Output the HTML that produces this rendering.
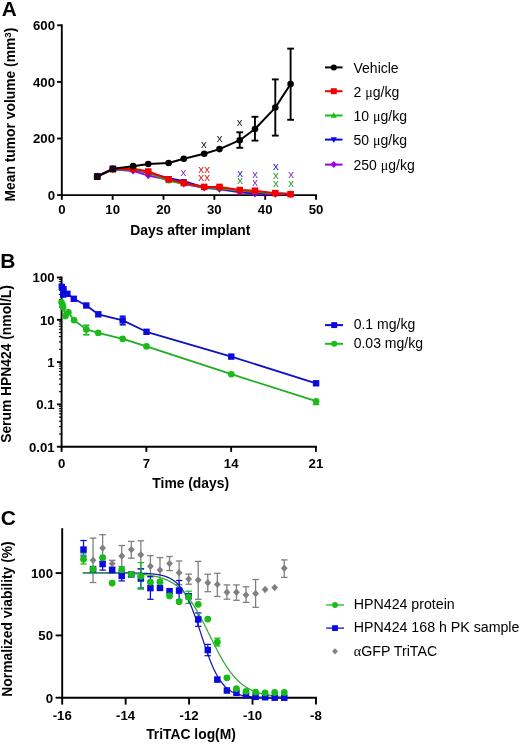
<!DOCTYPE html><html><head><meta charset="utf-8"><title>Figure</title><style>html,body{margin:0;padding:0;background:#fff}svg{display:block}</style></head><body>
<svg width="520" height="744" viewBox="0 0 520 744" font-family="Liberation Sans, sans-serif">
<rect width="520" height="744" fill="#fff"/>
<text x="1.70" y="16.00" font-size="20.8" font-weight="bold" text-anchor="start" fill="#000" >A</text>
<line x1="61.80" y1="24.35" x2="61.80" y2="196.05" stroke="#000" stroke-width="1.9" stroke-linecap="butt"/>
<line x1="60.85" y1="195.10" x2="317.00" y2="195.10" stroke="#000" stroke-width="1.9" stroke-linecap="butt"/>
<line x1="57.10" y1="195.10" x2="61.80" y2="195.10" stroke="#000" stroke-width="1.9" stroke-linecap="butt"/>
<text x="55.00" y="199.80" font-size="13.2" font-weight="bold" text-anchor="end" fill="#000" >0</text>
<line x1="57.10" y1="138.50" x2="61.80" y2="138.50" stroke="#000" stroke-width="1.9" stroke-linecap="butt"/>
<text x="55.00" y="143.20" font-size="13.2" font-weight="bold" text-anchor="end" fill="#000" >200</text>
<line x1="57.10" y1="81.90" x2="61.80" y2="81.90" stroke="#000" stroke-width="1.9" stroke-linecap="butt"/>
<text x="55.00" y="86.60" font-size="13.2" font-weight="bold" text-anchor="end" fill="#000" >400</text>
<line x1="57.10" y1="25.30" x2="61.80" y2="25.30" stroke="#000" stroke-width="1.9" stroke-linecap="butt"/>
<text x="55.00" y="30.00" font-size="13.2" font-weight="bold" text-anchor="end" fill="#000" >600</text>
<line x1="61.80" y1="195.10" x2="61.80" y2="199.80" stroke="#000" stroke-width="1.9" stroke-linecap="butt"/>
<text x="61.80" y="214.30" font-size="13.2" font-weight="bold" text-anchor="middle" fill="#000" >0</text>
<line x1="112.65" y1="195.10" x2="112.65" y2="199.80" stroke="#000" stroke-width="1.9" stroke-linecap="butt"/>
<text x="112.65" y="214.30" font-size="13.2" font-weight="bold" text-anchor="middle" fill="#000" >10</text>
<line x1="163.50" y1="195.10" x2="163.50" y2="199.80" stroke="#000" stroke-width="1.9" stroke-linecap="butt"/>
<text x="163.50" y="214.30" font-size="13.2" font-weight="bold" text-anchor="middle" fill="#000" >20</text>
<line x1="214.35" y1="195.10" x2="214.35" y2="199.80" stroke="#000" stroke-width="1.9" stroke-linecap="butt"/>
<text x="214.35" y="214.30" font-size="13.2" font-weight="bold" text-anchor="middle" fill="#000" >30</text>
<line x1="265.20" y1="195.10" x2="265.20" y2="199.80" stroke="#000" stroke-width="1.9" stroke-linecap="butt"/>
<text x="265.20" y="214.30" font-size="13.2" font-weight="bold" text-anchor="middle" fill="#000" >40</text>
<line x1="316.05" y1="195.10" x2="316.05" y2="199.80" stroke="#000" stroke-width="1.9" stroke-linecap="butt"/>
<text x="316.05" y="214.30" font-size="13.2" font-weight="bold" text-anchor="middle" fill="#000" >50</text>
<text x="190.30" y="235.00" font-size="13.85" font-weight="bold" text-anchor="middle" fill="#000" >Days after implant</text>
<text transform="translate(15,114.6) rotate(-90)" font-size="13.85" font-weight="bold" text-anchor="middle">Mean tumor volume (mm<tspan font-size="9.8" dy="-4.2">3</tspan><tspan dy="4.2">)</tspan></text>
<polyline points="97.20,176.00 112.90,169.30 133.10,170.90 148.25,175.60 168.60,179.80 183.80,184.00 204.25,187.80 219.50,189.20 239.75,192.20 254.95,194.00 275.30,194.20 290.60,194.40" fill="none" stroke="#a000e0" stroke-width="2.0" stroke-linejoin="round"/>
<polygon points="97.20,172.40 100.51,176.00 97.20,179.60 93.89,176.00" fill="#a000e0"/>
<polygon points="112.90,165.70 116.21,169.30 112.90,172.90 109.59,169.30" fill="#a000e0"/>
<polygon points="133.10,167.30 136.41,170.90 133.10,174.50 129.79,170.90" fill="#a000e0"/>
<polygon points="148.25,172.00 151.56,175.60 148.25,179.20 144.94,175.60" fill="#a000e0"/>
<polygon points="168.60,176.20 171.91,179.80 168.60,183.40 165.29,179.80" fill="#a000e0"/>
<polygon points="183.80,180.40 187.11,184.00 183.80,187.60 180.49,184.00" fill="#a000e0"/>
<polygon points="204.25,184.20 207.56,187.80 204.25,191.40 200.94,187.80" fill="#a000e0"/>
<polygon points="219.50,185.60 222.81,189.20 219.50,192.80 216.19,189.20" fill="#a000e0"/>
<polygon points="239.75,188.60 243.06,192.20 239.75,195.80 236.44,192.20" fill="#a000e0"/>
<polygon points="254.95,190.40 258.26,194.00 254.95,197.60 251.64,194.00" fill="#a000e0"/>
<polygon points="275.30,190.60 278.61,194.20 275.30,197.80 271.99,194.20" fill="#a000e0"/>
<polygon points="290.60,190.80 293.91,194.40 290.60,198.00 287.29,194.40" fill="#a000e0"/>
<polyline points="97.20,176.20 112.90,169.00 133.10,169.60 148.25,172.80 168.60,178.30 183.80,181.20 204.25,187.40 219.50,188.60 239.75,191.40 254.95,193.00 275.30,193.60 290.60,193.80" fill="none" stroke="#0a0ae0" stroke-width="2.0" stroke-linejoin="round"/>
<polygon points="97.20,179.56 94.12,173.96 100.28,173.96" fill="#0a0ae0"/>
<polygon points="112.90,172.36 109.82,166.76 115.98,166.76" fill="#0a0ae0"/>
<polygon points="133.10,172.96 130.02,167.36 136.18,167.36" fill="#0a0ae0"/>
<polygon points="148.25,176.16 145.17,170.56 151.33,170.56" fill="#0a0ae0"/>
<polygon points="168.60,181.66 165.52,176.06 171.68,176.06" fill="#0a0ae0"/>
<polygon points="183.80,184.56 180.72,178.96 186.88,178.96" fill="#0a0ae0"/>
<polygon points="204.25,190.76 201.17,185.16 207.33,185.16" fill="#0a0ae0"/>
<polygon points="219.50,191.96 216.42,186.36 222.58,186.36" fill="#0a0ae0"/>
<polygon points="239.75,194.76 236.67,189.16 242.83,189.16" fill="#0a0ae0"/>
<polygon points="254.95,196.36 251.87,190.76 258.03,190.76" fill="#0a0ae0"/>
<polygon points="275.30,196.96 272.22,191.36 278.38,191.36" fill="#0a0ae0"/>
<polygon points="290.60,197.16 287.52,191.56 293.68,191.56" fill="#0a0ae0"/>
<polyline points="97.20,176.40 112.90,169.40 133.10,169.20 148.25,172.30 168.60,181.00 183.80,183.60 204.25,187.20 219.50,188.20 239.75,190.80 254.95,191.80 275.30,193.40 290.60,194.00" fill="none" stroke="#18bb18" stroke-width="2.0" stroke-linejoin="round"/>
<polygon points="97.20,173.04 94.12,178.64 100.28,178.64" fill="#18bb18"/>
<polygon points="112.90,166.04 109.82,171.64 115.98,171.64" fill="#18bb18"/>
<polygon points="133.10,165.84 130.02,171.44 136.18,171.44" fill="#18bb18"/>
<polygon points="148.25,168.94 145.17,174.54 151.33,174.54" fill="#18bb18"/>
<polygon points="168.60,177.64 165.52,183.24 171.68,183.24" fill="#18bb18"/>
<polygon points="183.80,180.24 180.72,185.84 186.88,185.84" fill="#18bb18"/>
<polygon points="204.25,183.84 201.17,189.44 207.33,189.44" fill="#18bb18"/>
<polygon points="219.50,184.84 216.42,190.44 222.58,190.44" fill="#18bb18"/>
<polygon points="239.75,187.44 236.67,193.04 242.83,193.04" fill="#18bb18"/>
<polygon points="254.95,188.44 251.87,194.04 258.03,194.04" fill="#18bb18"/>
<polygon points="275.30,190.04 272.22,195.64 278.38,195.64" fill="#18bb18"/>
<polygon points="290.60,190.64 287.52,196.24 293.68,196.24" fill="#18bb18"/>
<polyline points="97.20,176.60 112.90,169.20 133.10,168.80 148.25,171.50 168.60,179.30 183.80,183.00 204.25,186.90 219.50,186.90 239.75,190.00 254.95,190.70 275.30,193.15 290.60,194.20" fill="none" stroke="#f40000" stroke-width="2.0" stroke-linejoin="round"/>
<rect x="93.95" y="173.35" width="6.5" height="6.5" fill="#f40000"/>
<rect x="109.65" y="165.95" width="6.5" height="6.5" fill="#f40000"/>
<rect x="129.85" y="165.55" width="6.5" height="6.5" fill="#f40000"/>
<rect x="145.00" y="168.25" width="6.5" height="6.5" fill="#f40000"/>
<rect x="165.35" y="176.05" width="6.5" height="6.5" fill="#f40000"/>
<rect x="180.55" y="179.75" width="6.5" height="6.5" fill="#f40000"/>
<rect x="201.00" y="183.65" width="6.5" height="6.5" fill="#f40000"/>
<rect x="216.25" y="183.65" width="6.5" height="6.5" fill="#f40000"/>
<rect x="236.50" y="186.75" width="6.5" height="6.5" fill="#f40000"/>
<rect x="251.70" y="187.45" width="6.5" height="6.5" fill="#f40000"/>
<rect x="272.05" y="189.90" width="6.5" height="6.5" fill="#f40000"/>
<rect x="287.35" y="190.95" width="6.5" height="6.5" fill="#f40000"/>
<line x1="239.75" y1="132.30" x2="239.75" y2="147.80" stroke="#000" stroke-width="1.9" stroke-linecap="butt"/>
<line x1="236.35" y1="132.30" x2="243.15" y2="132.30" stroke="#000" stroke-width="1.9" stroke-linecap="butt"/>
<line x1="236.35" y1="147.80" x2="243.15" y2="147.80" stroke="#000" stroke-width="1.9" stroke-linecap="butt"/>
<line x1="254.95" y1="116.80" x2="254.95" y2="140.60" stroke="#000" stroke-width="1.9" stroke-linecap="butt"/>
<line x1="251.55" y1="116.80" x2="258.35" y2="116.80" stroke="#000" stroke-width="1.9" stroke-linecap="butt"/>
<line x1="251.55" y1="140.60" x2="258.35" y2="140.60" stroke="#000" stroke-width="1.9" stroke-linecap="butt"/>
<line x1="275.30" y1="79.40" x2="275.30" y2="135.60" stroke="#000" stroke-width="1.9" stroke-linecap="butt"/>
<line x1="271.90" y1="79.40" x2="278.70" y2="79.40" stroke="#000" stroke-width="1.9" stroke-linecap="butt"/>
<line x1="271.90" y1="135.60" x2="278.70" y2="135.60" stroke="#000" stroke-width="1.9" stroke-linecap="butt"/>
<line x1="290.60" y1="48.60" x2="290.60" y2="119.80" stroke="#000" stroke-width="1.9" stroke-linecap="butt"/>
<line x1="287.20" y1="48.60" x2="294.00" y2="48.60" stroke="#000" stroke-width="1.9" stroke-linecap="butt"/>
<line x1="287.20" y1="119.80" x2="294.00" y2="119.80" stroke="#000" stroke-width="1.9" stroke-linecap="butt"/>
<polyline points="97.20,176.65 112.90,168.85 133.10,166.15 148.25,164.00 168.60,163.05 183.80,158.75 204.25,153.70 219.50,149.10 239.75,140.20 254.95,128.95 275.30,107.60 290.60,84.00" fill="none" stroke="#000" stroke-width="2.0" stroke-linejoin="round"/>
<circle cx="97.20" cy="176.65" r="3.3" fill="#000"/>
<circle cx="112.90" cy="168.85" r="3.3" fill="#000"/>
<circle cx="133.10" cy="166.15" r="3.3" fill="#000"/>
<circle cx="148.25" cy="164.00" r="3.3" fill="#000"/>
<circle cx="168.60" cy="163.05" r="3.3" fill="#000"/>
<circle cx="183.80" cy="158.75" r="3.3" fill="#000"/>
<circle cx="204.25" cy="153.70" r="3.3" fill="#000"/>
<circle cx="219.50" cy="149.10" r="3.3" fill="#000"/>
<circle cx="239.75" cy="140.20" r="3.3" fill="#000"/>
<circle cx="254.95" cy="128.95" r="3.3" fill="#000"/>
<circle cx="275.30" cy="107.60" r="3.3" fill="#000"/>
<circle cx="290.60" cy="84.00" r="3.3" fill="#000"/>
<rect x="93.90" y="173.35" width="6.6" height="6.6" fill="#17091c"/>
<rect x="109.60" y="165.55" width="6.6" height="6.6" fill="#17091c"/>
<text x="203.75" y="147.70" font-size="11.5"  text-anchor="middle" fill="#222" >x</text>
<text x="219.50" y="142.30" font-size="11.5"  text-anchor="middle" fill="#222" >x</text>
<text x="239.70" y="126.15" font-size="11.5"  text-anchor="middle" fill="#222" >x</text>
<text x="183.30" y="175.90" font-size="11.5"  text-anchor="middle" fill="#8a2fc0" >x</text>
<text x="201.10" y="173.40" font-size="11.5"  text-anchor="middle" fill="#d82020" >x</text>
<text x="207.10" y="173.40" font-size="11.5"  text-anchor="middle" fill="#d82020" >x</text>
<text x="201.10" y="181.20" font-size="11.5"  text-anchor="middle" fill="#d82020" >x</text>
<text x="207.10" y="181.20" font-size="11.5"  text-anchor="middle" fill="#d82020" >x</text>
<text x="240.10" y="176.50" font-size="11.5"  text-anchor="middle" fill="#2525c8" >x</text>
<text x="240.10" y="184.30" font-size="11.5"  text-anchor="middle" fill="#2a9a2a" >x</text>
<text x="255.20" y="177.80" font-size="11.5"  text-anchor="middle" fill="#8a2fc0" >x</text>
<text x="255.20" y="185.60" font-size="11.5"  text-anchor="middle" fill="#8a2fc0" >x</text>
<text x="275.90" y="169.50" font-size="11.5"  text-anchor="middle" fill="#2525c8" >x</text>
<text x="275.90" y="178.65" font-size="11.5"  text-anchor="middle" fill="#2a9a2a" >x</text>
<text x="275.90" y="187.10" font-size="11.5"  text-anchor="middle" fill="#2a9a2a" >x</text>
<text x="291.00" y="178.40" font-size="11.5"  text-anchor="middle" fill="#8a2fc0" >x</text>
<text x="291.00" y="187.10" font-size="11.5"  text-anchor="middle" fill="#2a9a2a" >x</text>
<line x1="325.00" y1="67.40" x2="342.50" y2="67.40" stroke="#000" stroke-width="2.0" stroke-linecap="butt"/>
<circle cx="333.80" cy="67.40" r="3.0" fill="#000"/>
<text x="353.50" y="72.70" font-size="14"  text-anchor="start" fill="#000" >Vehicle</text>
<line x1="325.00" y1="91.20" x2="342.50" y2="91.20" stroke="#f40000" stroke-width="2.0" stroke-linecap="butt"/>
<rect x="330.80" y="88.20" width="6.0" height="6.0" fill="#f40000"/>
<text x="353.50" y="96.90" font-size="14"  text-anchor="start" fill="#000" >2 <tspan font-family="Liberation Serif, serif">μ</tspan>g/kg</text>
<line x1="325.00" y1="115.50" x2="342.50" y2="115.50" stroke="#18bb18" stroke-width="2.0" stroke-linecap="butt"/>
<polygon points="333.80,112.14 330.72,117.74 336.88,117.74" fill="#18bb18"/>
<text x="353.50" y="121.10" font-size="14"  text-anchor="start" fill="#000" >10 <tspan font-family="Liberation Serif, serif">μ</tspan>g/kg</text>
<line x1="325.00" y1="139.60" x2="342.50" y2="139.60" stroke="#0a0ae0" stroke-width="2.0" stroke-linecap="butt"/>
<polygon points="333.80,142.96 330.72,137.36 336.88,137.36" fill="#0a0ae0"/>
<text x="353.50" y="145.30" font-size="14"  text-anchor="start" fill="#000" >50 <tspan font-family="Liberation Serif, serif">μ</tspan>g/kg</text>
<line x1="325.00" y1="164.60" x2="342.50" y2="164.60" stroke="#a000e0" stroke-width="2.0" stroke-linecap="butt"/>
<polygon points="333.80,161.10 337.02,164.60 333.80,168.10 330.58,164.60" fill="#a000e0"/>
<text x="353.50" y="169.60" font-size="14"  text-anchor="start" fill="#000" >250 <tspan font-family="Liberation Serif, serif">μ</tspan>g/kg</text>
<text x="0.20" y="267.70" font-size="21" font-weight="bold" text-anchor="start" fill="#000" >B</text>
<line x1="61.60" y1="276.55" x2="61.60" y2="447.69" stroke="#000" stroke-width="1.9" stroke-linecap="butt"/>
<line x1="60.65" y1="446.74" x2="316.86" y2="446.74" stroke="#000" stroke-width="1.9" stroke-linecap="butt"/>
<line x1="56.90" y1="277.50" x2="61.60" y2="277.50" stroke="#000" stroke-width="1.9" stroke-linecap="butt"/>
<text x="54.60" y="282.40" font-size="13.2" font-weight="bold" text-anchor="end" fill="#000" >100</text>
<line x1="56.90" y1="319.81" x2="61.60" y2="319.81" stroke="#000" stroke-width="1.9" stroke-linecap="butt"/>
<text x="54.60" y="324.71" font-size="13.2" font-weight="bold" text-anchor="end" fill="#000" >10</text>
<line x1="56.90" y1="362.12" x2="61.60" y2="362.12" stroke="#000" stroke-width="1.9" stroke-linecap="butt"/>
<text x="54.60" y="367.02" font-size="13.2" font-weight="bold" text-anchor="end" fill="#000" >1</text>
<line x1="56.90" y1="404.43" x2="61.60" y2="404.43" stroke="#000" stroke-width="1.9" stroke-linecap="butt"/>
<text x="54.60" y="409.33" font-size="13.2" font-weight="bold" text-anchor="end" fill="#000" >0.1</text>
<line x1="56.90" y1="446.74" x2="61.60" y2="446.74" stroke="#000" stroke-width="1.9" stroke-linecap="butt"/>
<text x="54.60" y="451.64" font-size="13.2" font-weight="bold" text-anchor="end" fill="#000" >0.01</text>
<line x1="58.90" y1="307.07" x2="61.60" y2="307.07" stroke="#000" stroke-width="1.1" stroke-linecap="butt"/>
<line x1="58.90" y1="299.62" x2="61.60" y2="299.62" stroke="#000" stroke-width="1.1" stroke-linecap="butt"/>
<line x1="58.90" y1="294.34" x2="61.60" y2="294.34" stroke="#000" stroke-width="1.1" stroke-linecap="butt"/>
<line x1="58.90" y1="290.24" x2="61.60" y2="290.24" stroke="#000" stroke-width="1.1" stroke-linecap="butt"/>
<line x1="58.90" y1="286.89" x2="61.60" y2="286.89" stroke="#000" stroke-width="1.1" stroke-linecap="butt"/>
<line x1="58.90" y1="284.05" x2="61.60" y2="284.05" stroke="#000" stroke-width="1.1" stroke-linecap="butt"/>
<line x1="58.90" y1="281.60" x2="61.60" y2="281.60" stroke="#000" stroke-width="1.1" stroke-linecap="butt"/>
<line x1="58.90" y1="279.44" x2="61.60" y2="279.44" stroke="#000" stroke-width="1.1" stroke-linecap="butt"/>
<line x1="58.90" y1="349.38" x2="61.60" y2="349.38" stroke="#000" stroke-width="1.1" stroke-linecap="butt"/>
<line x1="58.90" y1="341.93" x2="61.60" y2="341.93" stroke="#000" stroke-width="1.1" stroke-linecap="butt"/>
<line x1="58.90" y1="336.65" x2="61.60" y2="336.65" stroke="#000" stroke-width="1.1" stroke-linecap="butt"/>
<line x1="58.90" y1="332.55" x2="61.60" y2="332.55" stroke="#000" stroke-width="1.1" stroke-linecap="butt"/>
<line x1="58.90" y1="329.20" x2="61.60" y2="329.20" stroke="#000" stroke-width="1.1" stroke-linecap="butt"/>
<line x1="58.90" y1="326.36" x2="61.60" y2="326.36" stroke="#000" stroke-width="1.1" stroke-linecap="butt"/>
<line x1="58.90" y1="323.91" x2="61.60" y2="323.91" stroke="#000" stroke-width="1.1" stroke-linecap="butt"/>
<line x1="58.90" y1="321.75" x2="61.60" y2="321.75" stroke="#000" stroke-width="1.1" stroke-linecap="butt"/>
<line x1="58.90" y1="391.69" x2="61.60" y2="391.69" stroke="#000" stroke-width="1.1" stroke-linecap="butt"/>
<line x1="58.90" y1="384.24" x2="61.60" y2="384.24" stroke="#000" stroke-width="1.1" stroke-linecap="butt"/>
<line x1="58.90" y1="378.96" x2="61.60" y2="378.96" stroke="#000" stroke-width="1.1" stroke-linecap="butt"/>
<line x1="58.90" y1="374.86" x2="61.60" y2="374.86" stroke="#000" stroke-width="1.1" stroke-linecap="butt"/>
<line x1="58.90" y1="371.51" x2="61.60" y2="371.51" stroke="#000" stroke-width="1.1" stroke-linecap="butt"/>
<line x1="58.90" y1="368.67" x2="61.60" y2="368.67" stroke="#000" stroke-width="1.1" stroke-linecap="butt"/>
<line x1="58.90" y1="366.22" x2="61.60" y2="366.22" stroke="#000" stroke-width="1.1" stroke-linecap="butt"/>
<line x1="58.90" y1="364.06" x2="61.60" y2="364.06" stroke="#000" stroke-width="1.1" stroke-linecap="butt"/>
<line x1="58.90" y1="434.00" x2="61.60" y2="434.00" stroke="#000" stroke-width="1.1" stroke-linecap="butt"/>
<line x1="58.90" y1="426.55" x2="61.60" y2="426.55" stroke="#000" stroke-width="1.1" stroke-linecap="butt"/>
<line x1="58.90" y1="421.27" x2="61.60" y2="421.27" stroke="#000" stroke-width="1.1" stroke-linecap="butt"/>
<line x1="58.90" y1="417.17" x2="61.60" y2="417.17" stroke="#000" stroke-width="1.1" stroke-linecap="butt"/>
<line x1="58.90" y1="413.82" x2="61.60" y2="413.82" stroke="#000" stroke-width="1.1" stroke-linecap="butt"/>
<line x1="58.90" y1="410.98" x2="61.60" y2="410.98" stroke="#000" stroke-width="1.1" stroke-linecap="butt"/>
<line x1="58.90" y1="408.53" x2="61.60" y2="408.53" stroke="#000" stroke-width="1.1" stroke-linecap="butt"/>
<line x1="58.90" y1="406.37" x2="61.60" y2="406.37" stroke="#000" stroke-width="1.1" stroke-linecap="butt"/>
<line x1="61.60" y1="446.74" x2="61.60" y2="451.84" stroke="#000" stroke-width="1.9" stroke-linecap="butt"/>
<text x="61.60" y="467.60" font-size="13.2" font-weight="bold" text-anchor="middle" fill="#000" >0</text>
<line x1="146.37" y1="446.74" x2="146.37" y2="451.84" stroke="#000" stroke-width="1.9" stroke-linecap="butt"/>
<text x="146.37" y="467.60" font-size="13.2" font-weight="bold" text-anchor="middle" fill="#000" >7</text>
<line x1="231.14" y1="446.74" x2="231.14" y2="451.84" stroke="#000" stroke-width="1.9" stroke-linecap="butt"/>
<text x="231.14" y="467.60" font-size="13.2" font-weight="bold" text-anchor="middle" fill="#000" >14</text>
<line x1="315.91" y1="446.74" x2="315.91" y2="451.84" stroke="#000" stroke-width="1.9" stroke-linecap="butt"/>
<text x="315.91" y="467.60" font-size="13.2" font-weight="bold" text-anchor="middle" fill="#000" >21</text>
<text x="190.70" y="488.30" font-size="13.85" font-weight="bold" text-anchor="middle" fill="#000" >Time (days)</text>
<text transform="translate(11.2,364) rotate(-90)" font-size="13.85" font-weight="bold" text-anchor="middle">Serum HPN424 (nmol/L)</text>
<line x1="86.30" y1="325.30" x2="86.30" y2="334.80" stroke="#18bb18" stroke-width="1.6" stroke-linecap="butt"/>
<line x1="83.10" y1="325.30" x2="89.50" y2="325.30" stroke="#18bb18" stroke-width="1.6" stroke-linecap="butt"/>
<line x1="83.10" y1="334.80" x2="89.50" y2="334.80" stroke="#18bb18" stroke-width="1.6" stroke-linecap="butt"/>
<line x1="312.80" y1="404.50" x2="319.20" y2="404.50" stroke="#18bb18" stroke-width="1.5" stroke-linecap="butt"/>
<polyline points="61.50,302.30 62.60,305.00 63.10,307.60 65.50,316.10 68.40,312.30 74.10,320.30 86.30,329.40 98.20,332.90 122.70,338.90 146.50,346.40 231.30,374.20 316.10,401.20" fill="none" stroke="#1fae1f" stroke-width="1.75" stroke-linejoin="round"/>
<circle cx="61.50" cy="302.30" r="3.3" fill="#18bb18"/>
<circle cx="62.60" cy="305.00" r="3.3" fill="#18bb18"/>
<circle cx="63.10" cy="307.60" r="3.3" fill="#18bb18"/>
<circle cx="65.50" cy="316.10" r="3.3" fill="#18bb18"/>
<circle cx="68.40" cy="312.30" r="3.3" fill="#18bb18"/>
<circle cx="74.10" cy="320.30" r="3.3" fill="#18bb18"/>
<circle cx="86.30" cy="329.40" r="3.3" fill="#18bb18"/>
<circle cx="98.20" cy="332.90" r="3.3" fill="#18bb18"/>
<circle cx="122.70" cy="338.90" r="3.3" fill="#18bb18"/>
<circle cx="146.50" cy="346.40" r="3.3" fill="#18bb18"/>
<circle cx="231.30" cy="374.20" r="3.3" fill="#18bb18"/>
<circle cx="316.10" cy="401.20" r="3.3" fill="#18bb18"/>
<line x1="122.70" y1="316.20" x2="122.70" y2="324.80" stroke="#0a0ae0" stroke-width="1.5" stroke-linecap="butt"/>
<line x1="119.70" y1="316.20" x2="125.70" y2="316.20" stroke="#0a0ae0" stroke-width="1.5" stroke-linecap="butt"/>
<line x1="119.70" y1="324.80" x2="125.70" y2="324.80" stroke="#0a0ae0" stroke-width="1.5" stroke-linecap="butt"/>
<polyline points="61.80,286.90 63.50,289.20 63.20,294.60 67.40,293.80 73.80,298.80 86.30,305.50 98.30,314.30 122.70,320.40 146.50,331.80 231.30,356.60 316.10,383.30" fill="none" stroke="#1010c8" stroke-width="1.75" stroke-linejoin="round"/>
<rect x="58.60" y="283.70" width="6.4" height="6.4" fill="#0a0ae0"/>
<rect x="60.30" y="286.00" width="6.4" height="6.4" fill="#0a0ae0"/>
<rect x="60.00" y="291.40" width="6.4" height="6.4" fill="#0a0ae0"/>
<rect x="64.20" y="290.60" width="6.4" height="6.4" fill="#0a0ae0"/>
<rect x="70.60" y="295.60" width="6.4" height="6.4" fill="#0a0ae0"/>
<rect x="83.10" y="302.30" width="6.4" height="6.4" fill="#0a0ae0"/>
<rect x="95.10" y="311.10" width="6.4" height="6.4" fill="#0a0ae0"/>
<rect x="119.50" y="317.20" width="6.4" height="6.4" fill="#0a0ae0"/>
<rect x="143.30" y="328.60" width="6.4" height="6.4" fill="#0a0ae0"/>
<rect x="228.10" y="353.40" width="6.4" height="6.4" fill="#0a0ae0"/>
<rect x="312.90" y="380.10" width="6.4" height="6.4" fill="#0a0ae0"/>
<line x1="325.00" y1="325.10" x2="343.00" y2="325.10" stroke="#0a0ae0" stroke-width="2.0" stroke-linecap="butt"/>
<rect x="331.20" y="322.10" width="6.0" height="6.0" fill="#0a0ae0"/>
<text x="353.70" y="329.30" font-size="14"  text-anchor="start" fill="#000" >0.1 mg/kg</text>
<line x1="325.00" y1="343.80" x2="343.00" y2="343.80" stroke="#18bb18" stroke-width="2.0" stroke-linecap="butt"/>
<circle cx="334.20" cy="343.80" r="3.0" fill="#18bb18"/>
<text x="353.70" y="348.00" font-size="14"  text-anchor="start" fill="#000" >0.03 mg/kg</text>
<text x="0.70" y="524.60" font-size="21" font-weight="bold" text-anchor="start" fill="#000" >C</text>
<line x1="62.20" y1="528.20" x2="62.20" y2="698.65" stroke="#000" stroke-width="1.9" stroke-linecap="butt"/>
<line x1="61.25" y1="697.70" x2="316.91" y2="697.70" stroke="#000" stroke-width="1.9" stroke-linecap="butt"/>
<line x1="55.60" y1="697.70" x2="62.20" y2="697.70" stroke="#000" stroke-width="1.9" stroke-linecap="butt"/>
<text x="53.00" y="702.50" font-size="13.2" font-weight="bold" text-anchor="end" fill="#000" >0</text>
<line x1="55.60" y1="635.40" x2="62.20" y2="635.40" stroke="#000" stroke-width="1.9" stroke-linecap="butt"/>
<text x="53.00" y="640.20" font-size="13.2" font-weight="bold" text-anchor="end" fill="#000" >50</text>
<line x1="55.60" y1="573.10" x2="62.20" y2="573.10" stroke="#000" stroke-width="1.9" stroke-linecap="butt"/>
<text x="53.00" y="577.90" font-size="13.2" font-weight="bold" text-anchor="end" fill="#000" >100</text>
<line x1="62.20" y1="697.70" x2="62.20" y2="704.60" stroke="#000" stroke-width="1.9" stroke-linecap="butt"/>
<text x="62.20" y="719.50" font-size="13.2" font-weight="bold" text-anchor="middle" fill="#000" >-16</text>
<line x1="125.64" y1="697.70" x2="125.64" y2="704.60" stroke="#000" stroke-width="1.9" stroke-linecap="butt"/>
<text x="125.64" y="719.50" font-size="13.2" font-weight="bold" text-anchor="middle" fill="#000" >-14</text>
<line x1="189.08" y1="697.70" x2="189.08" y2="704.60" stroke="#000" stroke-width="1.9" stroke-linecap="butt"/>
<text x="189.08" y="719.50" font-size="13.2" font-weight="bold" text-anchor="middle" fill="#000" >-12</text>
<line x1="252.52" y1="697.70" x2="252.52" y2="704.60" stroke="#000" stroke-width="1.9" stroke-linecap="butt"/>
<text x="252.52" y="719.50" font-size="13.2" font-weight="bold" text-anchor="middle" fill="#000" >-10</text>
<line x1="315.96" y1="697.70" x2="315.96" y2="704.60" stroke="#000" stroke-width="1.9" stroke-linecap="butt"/>
<text x="315.96" y="719.50" font-size="13.2" font-weight="bold" text-anchor="middle" fill="#000" >-8</text>
<text x="191.00" y="738.80" font-size="13.85" font-weight="bold" text-anchor="middle" fill="#000" >TriTAC log(M)</text>
<text transform="translate(11.7,619) rotate(-90)" font-size="13.85" font-weight="bold" text-anchor="middle">Normalized viability (%)</text>
<line x1="93.06" y1="538.10" x2="93.06" y2="582.50" stroke="#808080" stroke-width="1.3" stroke-linecap="butt"/>
<line x1="89.76" y1="538.10" x2="96.36" y2="538.10" stroke="#808080" stroke-width="1.3" stroke-linecap="butt"/>
<line x1="89.76" y1="582.50" x2="96.36" y2="582.50" stroke="#808080" stroke-width="1.3" stroke-linecap="butt"/>
<line x1="102.62" y1="534.70" x2="102.62" y2="561.50" stroke="#808080" stroke-width="1.3" stroke-linecap="butt"/>
<line x1="99.32" y1="534.70" x2="105.92" y2="534.70" stroke="#808080" stroke-width="1.3" stroke-linecap="butt"/>
<line x1="99.32" y1="561.50" x2="105.92" y2="561.50" stroke="#808080" stroke-width="1.3" stroke-linecap="butt"/>
<line x1="112.18" y1="560.30" x2="112.18" y2="567.00" stroke="#808080" stroke-width="1.3" stroke-linecap="butt"/>
<line x1="108.88" y1="560.30" x2="115.48" y2="560.30" stroke="#808080" stroke-width="1.3" stroke-linecap="butt"/>
<line x1="108.88" y1="567.00" x2="115.48" y2="567.00" stroke="#808080" stroke-width="1.3" stroke-linecap="butt"/>
<line x1="121.74" y1="545.50" x2="121.74" y2="566.50" stroke="#808080" stroke-width="1.3" stroke-linecap="butt"/>
<line x1="118.44" y1="545.50" x2="125.04" y2="545.50" stroke="#808080" stroke-width="1.3" stroke-linecap="butt"/>
<line x1="118.44" y1="566.50" x2="125.04" y2="566.50" stroke="#808080" stroke-width="1.3" stroke-linecap="butt"/>
<line x1="131.30" y1="541.40" x2="131.30" y2="558.20" stroke="#808080" stroke-width="1.3" stroke-linecap="butt"/>
<line x1="128.00" y1="541.40" x2="134.60" y2="541.40" stroke="#808080" stroke-width="1.3" stroke-linecap="butt"/>
<line x1="128.00" y1="558.20" x2="134.60" y2="558.20" stroke="#808080" stroke-width="1.3" stroke-linecap="butt"/>
<line x1="140.86" y1="540.80" x2="140.86" y2="569.00" stroke="#808080" stroke-width="1.3" stroke-linecap="butt"/>
<line x1="137.56" y1="540.80" x2="144.16" y2="540.80" stroke="#808080" stroke-width="1.3" stroke-linecap="butt"/>
<line x1="137.56" y1="569.00" x2="144.16" y2="569.00" stroke="#808080" stroke-width="1.3" stroke-linecap="butt"/>
<line x1="150.42" y1="555.60" x2="150.42" y2="577.00" stroke="#808080" stroke-width="1.3" stroke-linecap="butt"/>
<line x1="147.12" y1="555.60" x2="153.72" y2="555.60" stroke="#808080" stroke-width="1.3" stroke-linecap="butt"/>
<line x1="147.12" y1="577.00" x2="153.72" y2="577.00" stroke="#808080" stroke-width="1.3" stroke-linecap="butt"/>
<line x1="159.98" y1="557.60" x2="159.98" y2="582.60" stroke="#808080" stroke-width="1.3" stroke-linecap="butt"/>
<line x1="156.68" y1="557.60" x2="163.28" y2="557.60" stroke="#808080" stroke-width="1.3" stroke-linecap="butt"/>
<line x1="156.68" y1="582.60" x2="163.28" y2="582.60" stroke="#808080" stroke-width="1.3" stroke-linecap="butt"/>
<line x1="169.54" y1="556.50" x2="169.54" y2="570.60" stroke="#808080" stroke-width="1.3" stroke-linecap="butt"/>
<line x1="166.24" y1="556.50" x2="172.84" y2="556.50" stroke="#808080" stroke-width="1.3" stroke-linecap="butt"/>
<line x1="166.24" y1="570.60" x2="172.84" y2="570.60" stroke="#808080" stroke-width="1.3" stroke-linecap="butt"/>
<line x1="179.10" y1="561.00" x2="179.10" y2="584.60" stroke="#808080" stroke-width="1.3" stroke-linecap="butt"/>
<line x1="175.80" y1="561.00" x2="182.40" y2="561.00" stroke="#808080" stroke-width="1.3" stroke-linecap="butt"/>
<line x1="175.80" y1="584.60" x2="182.40" y2="584.60" stroke="#808080" stroke-width="1.3" stroke-linecap="butt"/>
<line x1="188.66" y1="574.10" x2="188.66" y2="584.20" stroke="#808080" stroke-width="1.3" stroke-linecap="butt"/>
<line x1="185.36" y1="574.10" x2="191.96" y2="574.10" stroke="#808080" stroke-width="1.3" stroke-linecap="butt"/>
<line x1="185.36" y1="584.20" x2="191.96" y2="584.20" stroke="#808080" stroke-width="1.3" stroke-linecap="butt"/>
<line x1="198.22" y1="561.40" x2="198.22" y2="599.30" stroke="#808080" stroke-width="1.3" stroke-linecap="butt"/>
<line x1="194.92" y1="561.40" x2="201.52" y2="561.40" stroke="#808080" stroke-width="1.3" stroke-linecap="butt"/>
<line x1="194.92" y1="599.30" x2="201.52" y2="599.30" stroke="#808080" stroke-width="1.3" stroke-linecap="butt"/>
<line x1="207.78" y1="574.20" x2="207.78" y2="591.70" stroke="#808080" stroke-width="1.3" stroke-linecap="butt"/>
<line x1="204.48" y1="574.20" x2="211.08" y2="574.20" stroke="#808080" stroke-width="1.3" stroke-linecap="butt"/>
<line x1="204.48" y1="591.70" x2="211.08" y2="591.70" stroke="#808080" stroke-width="1.3" stroke-linecap="butt"/>
<line x1="217.34" y1="573.30" x2="217.34" y2="596.50" stroke="#808080" stroke-width="1.3" stroke-linecap="butt"/>
<line x1="214.04" y1="573.30" x2="220.64" y2="573.30" stroke="#808080" stroke-width="1.3" stroke-linecap="butt"/>
<line x1="214.04" y1="596.50" x2="220.64" y2="596.50" stroke="#808080" stroke-width="1.3" stroke-linecap="butt"/>
<line x1="226.90" y1="584.90" x2="226.90" y2="599.20" stroke="#808080" stroke-width="1.3" stroke-linecap="butt"/>
<line x1="223.60" y1="584.90" x2="230.20" y2="584.90" stroke="#808080" stroke-width="1.3" stroke-linecap="butt"/>
<line x1="223.60" y1="599.20" x2="230.20" y2="599.20" stroke="#808080" stroke-width="1.3" stroke-linecap="butt"/>
<line x1="236.46" y1="584.90" x2="236.46" y2="600.30" stroke="#808080" stroke-width="1.3" stroke-linecap="butt"/>
<line x1="233.16" y1="584.90" x2="239.76" y2="584.90" stroke="#808080" stroke-width="1.3" stroke-linecap="butt"/>
<line x1="233.16" y1="600.30" x2="239.76" y2="600.30" stroke="#808080" stroke-width="1.3" stroke-linecap="butt"/>
<line x1="246.02" y1="586.80" x2="246.02" y2="602.40" stroke="#808080" stroke-width="1.3" stroke-linecap="butt"/>
<line x1="242.72" y1="586.80" x2="249.32" y2="586.80" stroke="#808080" stroke-width="1.3" stroke-linecap="butt"/>
<line x1="242.72" y1="602.40" x2="249.32" y2="602.40" stroke="#808080" stroke-width="1.3" stroke-linecap="butt"/>
<line x1="255.58" y1="579.50" x2="255.58" y2="607.30" stroke="#808080" stroke-width="1.3" stroke-linecap="butt"/>
<line x1="252.28" y1="579.50" x2="258.88" y2="579.50" stroke="#808080" stroke-width="1.3" stroke-linecap="butt"/>
<line x1="252.28" y1="607.30" x2="258.88" y2="607.30" stroke="#808080" stroke-width="1.3" stroke-linecap="butt"/>
<line x1="284.26" y1="559.90" x2="284.26" y2="577.40" stroke="#808080" stroke-width="1.3" stroke-linecap="butt"/>
<line x1="280.96" y1="559.90" x2="287.56" y2="559.90" stroke="#808080" stroke-width="1.3" stroke-linecap="butt"/>
<line x1="280.96" y1="577.40" x2="287.56" y2="577.40" stroke="#808080" stroke-width="1.3" stroke-linecap="butt"/>
<polygon points="93.06,556.60 96.46,560.30 93.06,564.00 89.66,560.30" fill="#808080"/>
<polygon points="102.62,544.40 106.02,548.10 102.62,551.80 99.22,548.10" fill="#808080"/>
<polygon points="112.18,559.90 115.58,563.60 112.18,567.30 108.78,563.60" fill="#808080"/>
<polygon points="121.74,552.30 125.14,556.00 121.74,559.70 118.34,556.00" fill="#808080"/>
<polygon points="131.30,545.90 134.70,549.60 131.30,553.30 127.90,549.60" fill="#808080"/>
<polygon points="140.86,551.10 144.26,554.80 140.86,558.50 137.46,554.80" fill="#808080"/>
<polygon points="150.42,562.60 153.82,566.30 150.42,570.00 147.02,566.30" fill="#808080"/>
<polygon points="159.98,566.40 163.38,570.10 159.98,573.80 156.58,570.10" fill="#808080"/>
<polygon points="169.54,559.90 172.94,563.60 169.54,567.30 166.14,563.60" fill="#808080"/>
<polygon points="179.10,569.10 182.50,572.80 179.10,576.50 175.70,572.80" fill="#808080"/>
<polygon points="188.66,575.40 192.06,579.10 188.66,582.80 185.26,579.10" fill="#808080"/>
<polygon points="198.22,576.40 201.62,580.10 198.22,583.80 194.82,580.10" fill="#808080"/>
<polygon points="207.78,579.10 211.18,582.80 207.78,586.50 204.38,582.80" fill="#808080"/>
<polygon points="217.34,580.70 220.74,584.40 217.34,588.10 213.94,584.40" fill="#808080"/>
<polygon points="226.90,588.50 230.30,592.20 226.90,595.90 223.50,592.20" fill="#808080"/>
<polygon points="236.46,588.50 239.86,592.20 236.46,595.90 233.06,592.20" fill="#808080"/>
<polygon points="246.02,591.20 249.42,594.90 246.02,598.60 242.62,594.90" fill="#808080"/>
<polygon points="255.58,589.80 258.98,593.50 255.58,597.20 252.18,593.50" fill="#808080"/>
<polygon points="265.14,585.80 268.54,589.50 265.14,593.20 261.74,589.50" fill="#808080"/>
<polygon points="274.70,583.90 278.10,587.60 274.70,591.30 271.30,587.60" fill="#808080"/>
<polygon points="284.26,564.50 287.66,568.20 284.26,571.90 280.86,568.20" fill="#808080"/>
<line x1="83.50" y1="540.50" x2="83.50" y2="556.00" stroke="#0a0ae0" stroke-width="1.25" stroke-linecap="butt"/>
<line x1="80.30" y1="540.50" x2="86.70" y2="540.50" stroke="#0a0ae0" stroke-width="1.25" stroke-linecap="butt"/>
<line x1="80.30" y1="556.00" x2="86.70" y2="556.00" stroke="#0a0ae0" stroke-width="1.25" stroke-linecap="butt"/>
<line x1="102.62" y1="558.00" x2="102.62" y2="570.10" stroke="#0a0ae0" stroke-width="1.25" stroke-linecap="butt"/>
<line x1="99.42" y1="558.00" x2="105.82" y2="558.00" stroke="#0a0ae0" stroke-width="1.25" stroke-linecap="butt"/>
<line x1="99.42" y1="570.10" x2="105.82" y2="570.10" stroke="#0a0ae0" stroke-width="1.25" stroke-linecap="butt"/>
<line x1="121.74" y1="571.00" x2="121.74" y2="580.90" stroke="#0a0ae0" stroke-width="1.25" stroke-linecap="butt"/>
<line x1="118.54" y1="571.00" x2="124.94" y2="571.00" stroke="#0a0ae0" stroke-width="1.25" stroke-linecap="butt"/>
<line x1="118.54" y1="580.90" x2="124.94" y2="580.90" stroke="#0a0ae0" stroke-width="1.25" stroke-linecap="butt"/>
<line x1="140.86" y1="568.80" x2="140.86" y2="588.00" stroke="#0a0ae0" stroke-width="1.25" stroke-linecap="butt"/>
<line x1="137.66" y1="568.80" x2="144.06" y2="568.80" stroke="#0a0ae0" stroke-width="1.25" stroke-linecap="butt"/>
<line x1="137.66" y1="588.00" x2="144.06" y2="588.00" stroke="#0a0ae0" stroke-width="1.25" stroke-linecap="butt"/>
<line x1="150.42" y1="576.40" x2="150.42" y2="599.30" stroke="#0a0ae0" stroke-width="1.25" stroke-linecap="butt"/>
<line x1="147.22" y1="576.40" x2="153.62" y2="576.40" stroke="#0a0ae0" stroke-width="1.25" stroke-linecap="butt"/>
<line x1="147.22" y1="599.30" x2="153.62" y2="599.30" stroke="#0a0ae0" stroke-width="1.25" stroke-linecap="butt"/>
<line x1="179.10" y1="580.50" x2="179.10" y2="600.00" stroke="#0a0ae0" stroke-width="1.25" stroke-linecap="butt"/>
<line x1="175.90" y1="580.50" x2="182.30" y2="580.50" stroke="#0a0ae0" stroke-width="1.25" stroke-linecap="butt"/>
<line x1="175.90" y1="600.00" x2="182.30" y2="600.00" stroke="#0a0ae0" stroke-width="1.25" stroke-linecap="butt"/>
<line x1="198.22" y1="612.90" x2="198.22" y2="626.30" stroke="#0a0ae0" stroke-width="1.25" stroke-linecap="butt"/>
<line x1="195.02" y1="612.90" x2="201.42" y2="612.90" stroke="#0a0ae0" stroke-width="1.25" stroke-linecap="butt"/>
<line x1="195.02" y1="626.30" x2="201.42" y2="626.30" stroke="#0a0ae0" stroke-width="1.25" stroke-linecap="butt"/>
<line x1="207.78" y1="644.40" x2="207.78" y2="655.70" stroke="#0a0ae0" stroke-width="1.25" stroke-linecap="butt"/>
<line x1="204.58" y1="644.40" x2="210.98" y2="644.40" stroke="#0a0ae0" stroke-width="1.25" stroke-linecap="butt"/>
<line x1="204.58" y1="655.70" x2="210.98" y2="655.70" stroke="#0a0ae0" stroke-width="1.25" stroke-linecap="butt"/>
<line x1="83.50" y1="553.90" x2="83.50" y2="564.00" stroke="#18bb18" stroke-width="1.25" stroke-linecap="butt"/>
<line x1="80.30" y1="553.90" x2="86.70" y2="553.90" stroke="#18bb18" stroke-width="1.25" stroke-linecap="butt"/>
<line x1="80.30" y1="564.00" x2="86.70" y2="564.00" stroke="#18bb18" stroke-width="1.25" stroke-linecap="butt"/>
<line x1="140.86" y1="562.60" x2="140.86" y2="589.20" stroke="#18bb18" stroke-width="1.25" stroke-linecap="butt"/>
<line x1="137.66" y1="562.60" x2="144.06" y2="562.60" stroke="#18bb18" stroke-width="1.25" stroke-linecap="butt"/>
<line x1="137.66" y1="589.20" x2="144.06" y2="589.20" stroke="#18bb18" stroke-width="1.25" stroke-linecap="butt"/>
<line x1="188.66" y1="591.20" x2="188.66" y2="603.40" stroke="#18bb18" stroke-width="1.25" stroke-linecap="butt"/>
<line x1="185.46" y1="591.20" x2="191.86" y2="591.20" stroke="#18bb18" stroke-width="1.25" stroke-linecap="butt"/>
<line x1="185.46" y1="603.40" x2="191.86" y2="603.40" stroke="#18bb18" stroke-width="1.25" stroke-linecap="butt"/>
<line x1="217.34" y1="638.20" x2="217.34" y2="646.00" stroke="#18bb18" stroke-width="1.25" stroke-linecap="butt"/>
<line x1="214.14" y1="638.20" x2="220.54" y2="638.20" stroke="#18bb18" stroke-width="1.25" stroke-linecap="butt"/>
<line x1="214.14" y1="646.00" x2="220.54" y2="646.00" stroke="#18bb18" stroke-width="1.25" stroke-linecap="butt"/>
<polyline points="82.82,572.85 83.45,572.85 84.09,572.85 84.72,572.85 85.36,572.85 85.99,572.85 86.62,572.85 87.26,572.85 87.89,572.85 88.53,572.85 89.16,572.85 89.80,572.85 90.43,572.85 91.07,572.85 91.70,572.85 92.33,572.85 92.97,572.85 93.60,572.85 94.24,572.85 94.87,572.85 95.51,572.85 96.14,572.85 96.77,572.86 97.41,572.86 98.04,572.86 98.68,572.86 99.31,572.86 99.95,572.86 100.58,572.86 101.22,572.86 101.85,572.86 102.48,572.86 103.12,572.86 103.75,572.86 104.39,572.86 105.02,572.86 105.66,572.86 106.29,572.86 106.93,572.86 107.56,572.86 108.19,572.86 108.83,572.87 109.46,572.87 110.10,572.87 110.73,572.87 111.37,572.87 112.00,572.87 112.63,572.87 113.27,572.87 113.90,572.87 114.54,572.88 115.17,572.88 115.81,572.88 116.44,572.88 117.08,572.88 117.71,572.88 118.34,572.89 118.98,572.89 119.61,572.89 120.25,572.89 120.88,572.90 121.52,572.90 122.15,572.90 122.79,572.91 123.42,572.91 124.05,572.91 124.69,572.92 125.32,572.92 125.96,572.93 126.59,572.93 127.23,572.94 127.86,572.94 128.49,572.95 129.13,572.96 129.76,572.96 130.40,572.97 131.03,572.98 131.67,572.98 132.30,572.99 132.94,573.00 133.57,573.01 134.20,573.02 134.84,573.03 135.47,573.04 136.11,573.06 136.74,573.07 137.38,573.08 138.01,573.10 138.65,573.12 139.28,573.13 139.91,573.15 140.55,573.17 141.18,573.19 141.82,573.21 142.45,573.23 143.09,573.26 143.72,573.29 144.35,573.31 144.99,573.34 145.62,573.37 146.26,573.41 146.89,573.44 147.53,573.48 148.16,573.52 148.80,573.56 149.43,573.61 150.06,573.66 150.70,573.71 151.33,573.76 151.97,573.82 152.60,573.88 153.24,573.95 153.87,574.02 154.51,574.09 155.14,574.17 155.77,574.26 156.41,574.34 157.04,574.44 157.68,574.54 158.31,574.65 158.95,574.76 159.58,574.88 160.21,575.01 160.85,575.14 161.48,575.29 162.12,575.44 162.75,575.60 163.39,575.78 164.02,575.96 164.66,576.15 165.29,576.36 165.92,576.58 166.56,576.81 167.19,577.05 167.83,577.31 168.46,577.59 169.10,577.88 169.73,578.19 170.37,578.52 171.00,578.86 171.63,579.23 172.27,579.61 172.90,580.02 173.54,580.46 174.17,580.91 174.81,581.39 175.44,581.90 176.07,582.44 176.71,583.00 177.34,583.60 177.98,584.22 178.61,584.88 179.25,585.58 179.88,586.31 180.52,587.07 181.15,587.87 181.78,588.71 182.42,589.59 183.05,590.52 183.69,591.48 184.32,592.49 184.96,593.54 185.59,594.63 186.23,595.77 186.86,596.96 187.49,598.19 188.13,599.47 188.76,600.80 189.40,602.17 190.03,603.59 190.67,605.05 191.30,606.56 191.93,608.11 192.57,609.70 193.20,611.34 193.84,613.01 194.47,614.73 195.11,616.47 195.74,618.25 196.38,620.06 197.01,621.90 197.64,623.77 198.28,625.65 198.91,627.55 199.55,629.47 200.18,631.40 200.82,633.34 201.45,635.28 202.09,637.22 202.72,639.15 203.35,641.08 203.99,643.00 204.62,644.90 205.26,646.79 205.89,648.65 206.53,650.49 207.16,652.30 207.79,654.08 208.43,655.83 209.06,657.54 209.70,659.21 210.33,660.85 210.97,662.44 211.60,663.99 212.24,665.50 212.87,666.96 213.50,668.38 214.14,669.75 214.77,671.08 215.41,672.36 216.04,673.59 216.68,674.78 217.31,675.92 217.95,677.01 218.58,678.06 219.21,679.07 219.85,680.03 220.48,680.96 221.12,681.84 221.75,682.68 222.39,683.48 223.02,684.25 223.65,684.97 224.29,685.67 224.92,686.33 225.56,686.95 226.19,687.55 226.83,688.11 227.46,688.65 228.10,689.16 228.73,689.64 229.36,690.10 230.00,690.53 230.63,690.94 231.27,691.32 231.90,691.69 232.54,692.03 233.17,692.36 233.81,692.67 234.44,692.96 235.07,693.24 235.71,693.50 236.34,693.74 236.98,693.97 237.61,694.19 238.25,694.40 238.88,694.59 239.51,694.78 240.15,694.95 240.78,695.11 241.42,695.26 242.05,695.41 242.69,695.54 243.32,695.67 243.96,695.79 244.59,695.90 245.22,696.01 245.86,696.11 246.49,696.21 247.13,696.30 247.76,696.38 248.40,696.46 249.03,696.53 249.67,696.60 250.30,696.67 250.93,696.73 251.57,696.79 252.20,696.84 252.84,696.89 253.47,696.94 254.11,696.99 254.74,697.03 255.37,697.07 256.01,697.11 256.64,697.14 257.28,697.18 257.91,697.21 258.55,697.24 259.18,697.27 259.82,697.29 260.45,697.32 261.08,697.34 261.72,697.36 262.35,697.38 262.99,697.40 263.62,697.42 264.26,697.44 264.89,697.45 265.53,697.47 266.16,697.48 266.79,697.49 267.43,697.51 268.06,697.52 268.70,697.53 269.33,697.54 269.97,697.55 270.60,697.56 271.23,697.57 271.87,697.57 272.50,697.58 273.14,697.59 273.77,697.60 274.41,697.60 275.04,697.61 275.68,697.61 276.31,697.62 276.94,697.62 277.58,697.63 278.21,697.63 278.85,697.64 279.48,697.64 280.12,697.64 280.75,697.65 281.39,697.65 282.02,697.65 282.65,697.66 283.29,697.66 283.92,697.66 284.56,697.66" fill="none" stroke="#1a1aa8" stroke-width="1.25" stroke-linejoin="round"/>
<polyline points="82.82,572.88 83.45,572.88 84.09,572.88 84.72,572.89 85.36,572.89 85.99,572.89 86.62,572.89 87.26,572.89 87.89,572.89 88.53,572.90 89.16,572.90 89.80,572.90 90.43,572.90 91.07,572.90 91.70,572.91 92.33,572.91 92.97,572.91 93.60,572.91 94.24,572.92 94.87,572.92 95.51,572.92 96.14,572.93 96.77,572.93 97.41,572.93 98.04,572.94 98.68,572.94 99.31,572.94 99.95,572.95 100.58,572.95 101.22,572.96 101.85,572.96 102.48,572.96 103.12,572.97 103.75,572.97 104.39,572.98 105.02,572.98 105.66,572.99 106.29,573.00 106.93,573.00 107.56,573.01 108.19,573.02 108.83,573.02 109.46,573.03 110.10,573.04 110.73,573.04 111.37,573.05 112.00,573.06 112.63,573.07 113.27,573.08 113.90,573.09 114.54,573.10 115.17,573.11 115.81,573.12 116.44,573.13 117.08,573.14 117.71,573.16 118.34,573.17 118.98,573.18 119.61,573.20 120.25,573.21 120.88,573.23 121.52,573.24 122.15,573.26 122.79,573.28 123.42,573.29 124.05,573.31 124.69,573.33 125.32,573.35 125.96,573.37 126.59,573.40 127.23,573.42 127.86,573.44 128.49,573.47 129.13,573.49 129.76,573.52 130.40,573.55 131.03,573.58 131.67,573.61 132.30,573.64 132.94,573.67 133.57,573.71 134.20,573.74 134.84,573.78 135.47,573.82 136.11,573.86 136.74,573.90 137.38,573.95 138.01,573.99 138.65,574.04 139.28,574.09 139.91,574.14 140.55,574.20 141.18,574.26 141.82,574.31 142.45,574.38 143.09,574.44 143.72,574.51 144.35,574.57 144.99,574.65 145.62,574.72 146.26,574.80 146.89,574.88 147.53,574.96 148.16,575.05 148.80,575.14 149.43,575.24 150.06,575.34 150.70,575.44 151.33,575.55 151.97,575.66 152.60,575.78 153.24,575.90 153.87,576.02 154.51,576.15 155.14,576.29 155.77,576.43 156.41,576.58 157.04,576.73 157.68,576.89 158.31,577.05 158.95,577.22 159.58,577.40 160.21,577.59 160.85,577.78 161.48,577.98 162.12,578.19 162.75,578.41 163.39,578.63 164.02,578.86 164.66,579.10 165.29,579.35 165.92,579.61 166.56,579.88 167.19,580.17 167.83,580.46 168.46,580.76 169.10,581.07 169.73,581.39 170.37,581.73 171.00,582.08 171.63,582.44 172.27,582.81 172.90,583.20 173.54,583.60 174.17,584.01 174.81,584.44 175.44,584.88 176.07,585.34 176.71,585.82 177.34,586.31 177.98,586.81 178.61,587.33 179.25,587.87 179.88,588.43 180.52,589.00 181.15,589.59 181.78,590.20 182.42,590.83 183.05,591.48 183.69,592.15 184.32,592.83 184.96,593.54 185.59,594.26 186.23,595.01 186.86,595.77 187.49,596.56 188.13,597.37 188.76,598.19 189.40,599.04 190.03,599.91 190.67,600.80 191.30,601.71 191.93,602.64 192.57,603.59 193.20,604.56 193.84,605.55 194.47,606.56 195.11,607.59 195.74,608.64 196.38,609.70 197.01,610.79 197.64,611.89 198.28,613.01 198.91,614.15 199.55,615.30 200.18,616.47 200.82,617.66 201.45,618.85 202.09,620.06 202.72,621.29 203.35,622.52 203.99,623.77 204.62,625.02 205.26,626.28 205.89,627.55 206.53,628.83 207.16,630.11 207.79,631.40 208.43,632.69 209.06,633.98 209.70,635.28 210.33,636.57 210.97,637.86 211.60,639.15 212.24,640.44 212.87,641.72 213.50,643.00 214.14,644.27 214.77,645.53 215.41,646.79 216.04,648.03 216.68,649.26 217.31,650.49 217.95,651.70 218.58,652.89 219.21,654.08 219.85,655.25 220.48,656.40 221.12,657.54 221.75,658.66 222.39,659.76 223.02,660.85 223.65,661.91 224.29,662.96 224.92,663.99 225.56,665.00 226.19,665.99 226.83,666.96 227.46,667.91 228.10,668.84 228.73,669.75 229.36,670.64 230.00,671.51 230.63,672.36 231.27,673.18 231.90,673.99 232.54,674.78 233.17,675.54 233.81,676.29 234.44,677.01 235.07,677.72 235.71,678.40 236.34,679.07 236.98,679.72 237.61,680.35 238.25,680.96 238.88,681.55 239.51,682.12 240.15,682.68 240.78,683.22 241.42,683.74 242.05,684.25 242.69,684.74 243.32,685.21 243.96,685.67 244.59,686.11 245.22,686.54 245.86,686.95 246.49,687.35 247.13,687.74 247.76,688.11 248.40,688.47 249.03,688.82 249.67,689.16 250.30,689.48 250.93,689.79 251.57,690.10 252.20,690.39 252.84,690.67 253.47,690.94 254.11,691.20 254.74,691.45 255.37,691.69 256.01,691.92 256.64,692.15 257.28,692.36 257.91,692.57 258.55,692.77 259.18,692.96 259.82,693.15 260.45,693.33 261.08,693.50 261.72,693.66 262.35,693.82 262.99,693.97 263.62,694.12 264.26,694.26 264.89,694.40 265.53,694.53 266.16,694.65 266.79,694.78 267.43,694.89 268.06,695.00 268.70,695.11 269.33,695.21 269.97,695.31 270.60,695.41 271.23,695.50 271.87,695.59 272.50,695.67 273.14,695.75 273.77,695.83 274.41,695.90 275.04,695.98 275.68,696.05 276.31,696.11 276.94,696.18 277.58,696.24 278.21,696.30 278.85,696.35 279.48,696.41 280.12,696.46 280.75,696.51 281.39,696.56 282.02,696.60 282.65,696.65 283.29,696.69 283.92,696.73 284.56,696.77" fill="none" stroke="#2fa83c" stroke-width="1.25" stroke-linejoin="round"/>
<rect x="80.25" y="546.35" width="6.5" height="6.5" fill="#0a0ae0"/>
<rect x="89.81" y="565.85" width="6.5" height="6.5" fill="#0a0ae0"/>
<rect x="99.37" y="560.75" width="6.5" height="6.5" fill="#0a0ae0"/>
<rect x="108.93" y="566.85" width="6.5" height="6.5" fill="#0a0ae0"/>
<rect x="118.49" y="572.65" width="6.5" height="6.5" fill="#0a0ae0"/>
<rect x="128.05" y="571.25" width="6.5" height="6.5" fill="#0a0ae0"/>
<rect x="137.61" y="575.25" width="6.5" height="6.5" fill="#0a0ae0"/>
<rect x="147.17" y="584.85" width="6.5" height="6.5" fill="#0a0ae0"/>
<rect x="156.73" y="584.65" width="6.5" height="6.5" fill="#0a0ae0"/>
<rect x="166.29" y="587.95" width="6.5" height="6.5" fill="#0a0ae0"/>
<rect x="175.85" y="587.35" width="6.5" height="6.5" fill="#0a0ae0"/>
<rect x="185.41" y="592.95" width="6.5" height="6.5" fill="#0a0ae0"/>
<rect x="194.97" y="616.15" width="6.5" height="6.5" fill="#0a0ae0"/>
<rect x="204.53" y="646.75" width="6.5" height="6.5" fill="#0a0ae0"/>
<rect x="214.09" y="676.35" width="6.5" height="6.5" fill="#0a0ae0"/>
<rect x="223.65" y="687.25" width="6.5" height="6.5" fill="#0a0ae0"/>
<rect x="233.21" y="689.55" width="6.5" height="6.5" fill="#0a0ae0"/>
<rect x="242.77" y="692.15" width="6.5" height="6.5" fill="#0a0ae0"/>
<rect x="252.33" y="693.55" width="6.5" height="6.5" fill="#0a0ae0"/>
<rect x="261.89" y="693.95" width="6.5" height="6.5" fill="#0a0ae0"/>
<rect x="271.45" y="694.45" width="6.5" height="6.5" fill="#0a0ae0"/>
<rect x="281.01" y="694.45" width="6.5" height="6.5" fill="#0a0ae0"/>
<circle cx="83.50" cy="559.30" r="3.4" fill="#18bb18"/>
<circle cx="93.06" cy="569.10" r="3.4" fill="#18bb18"/>
<circle cx="102.62" cy="557.70" r="3.4" fill="#18bb18"/>
<circle cx="112.18" cy="583.10" r="3.4" fill="#18bb18"/>
<circle cx="121.74" cy="569.70" r="3.4" fill="#18bb18"/>
<circle cx="131.30" cy="574.50" r="3.4" fill="#18bb18"/>
<circle cx="140.86" cy="576.30" r="3.4" fill="#18bb18"/>
<circle cx="150.42" cy="582.20" r="3.4" fill="#18bb18"/>
<circle cx="159.98" cy="581.80" r="3.4" fill="#18bb18"/>
<circle cx="169.54" cy="595.90" r="3.4" fill="#18bb18"/>
<circle cx="179.10" cy="601.70" r="3.4" fill="#18bb18"/>
<circle cx="188.66" cy="596.90" r="3.4" fill="#18bb18"/>
<circle cx="198.22" cy="604.30" r="3.4" fill="#18bb18"/>
<circle cx="207.78" cy="619.10" r="3.4" fill="#18bb18"/>
<circle cx="217.34" cy="642.10" r="3.4" fill="#18bb18"/>
<circle cx="226.90" cy="677.80" r="3.4" fill="#18bb18"/>
<circle cx="236.46" cy="688.60" r="3.4" fill="#18bb18"/>
<circle cx="246.02" cy="691.30" r="3.4" fill="#18bb18"/>
<circle cx="255.58" cy="692.10" r="3.4" fill="#18bb18"/>
<circle cx="265.14" cy="692.80" r="3.4" fill="#18bb18"/>
<circle cx="274.70" cy="692.50" r="3.4" fill="#18bb18"/>
<circle cx="284.26" cy="692.50" r="3.4" fill="#18bb18"/>
<line x1="326.20" y1="605.00" x2="344.00" y2="605.00" stroke="#18bb18" stroke-width="1.3" stroke-linecap="butt"/>
<circle cx="335.00" cy="605.00" r="2.91" fill="#18bb18"/>
<text x="353.80" y="609.40" font-size="14.2"  text-anchor="start" fill="#000" >HPN424 protein</text>
<line x1="326.20" y1="628.10" x2="344.00" y2="628.10" stroke="#0a0ae0" stroke-width="1.3" stroke-linecap="butt"/>
<rect x="332.09" y="625.19" width="5.82" height="5.82" fill="#0a0ae0"/>
<text x="353.80" y="632.20" font-size="14.2"  text-anchor="start" fill="#000" >HPN424 168 h PK sample</text>
<polygon points="335.00,648.15 337.90,651.30 335.00,654.45 332.10,651.30" fill="#808080"/>
<text x="353.80" y="655.60" font-size="14.2"  text-anchor="start" fill="#000" ><tspan font-family="Liberation Serif, serif">α</tspan>GFP TriTAC</text>
</svg></body></html>
